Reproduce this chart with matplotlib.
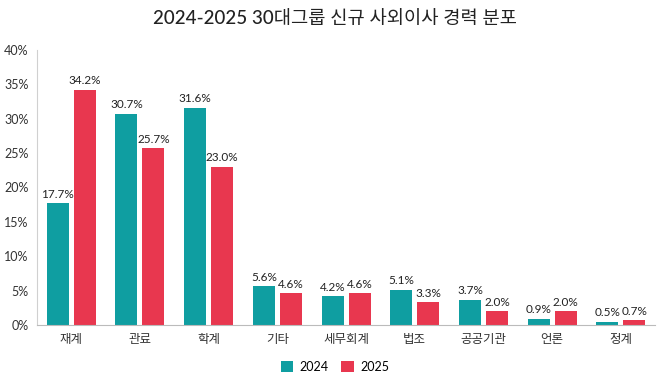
import matplotlib.pyplot as plt
import numpy as np

plt.rcParams['font.family'] = ['Lato', 'Noto Sans CJK KR', 'DejaVu Sans']

categories = ['재계', '관료', '학계', '기타', '세무회계', '법조', '공공기관', '언론', '정계']
vals_2024 = [17.7, 30.7, 31.6, 5.6, 4.2, 5.1, 3.7, 0.9, 0.5]
vals_2025 = [34.2, 25.7, 23.0, 4.6, 4.6, 3.3, 2.0, 2.0, 0.7]
yticks = [0, 5, 10, 15, 20, 25, 30, 35, 40]

c24 = '#0f9ea1'
c25 = '#e8374f'

fig = plt.figure(figsize=(6.7, 3.81), dpi=100)
ax = fig.add_axes([0.055, 0.147, 0.923, 0.722])

x = np.arange(len(categories))
w = 0.32
off = 0.197
b1 = ax.bar(x - off, vals_2024, w, color=c24, label='2024')
b2 = ax.bar(x + off, vals_2025, w, color=c25, label='2025')

for bars, vals in ((b1, vals_2024), (b2, vals_2025)):
    for b, v in zip(bars, vals):
        ax.text(b.get_x() + b.get_width() / 2, v + 0.5, f'{v:.1f}%',
                ha='center', va='bottom', fontsize=8.5, color='#222222')

ax.set_xlim(-0.5, len(categories) - 0.5)
ax.set_ylim(0, 40)
ax.set_yticks(yticks)
ax.set_yticklabels([f'{t}%' for t in yticks], fontsize=9, color='#333333')
ax.set_xticks(x)
ax.set_xticklabels(categories, fontsize=9, color='#333333')
ax.tick_params(axis='both', length=0, pad=6)

for s in ['top', 'right']:
    ax.spines[s].set_visible(False)
ax.spines['left'].set_color('#d0d0d0')
ax.spines['bottom'].set_color('#bbbbbb')

fig.text(0.5, 0.952, '2024-2025 30대그룹 신규 사외이사 경력 분포', ha='center', va='center',
         fontsize=13.5, fontweight='medium', color='#222222')

fig.legend(handles=[b1, b2], loc='center', bbox_to_anchor=(0.5, 0.037), ncol=2,
           frameon=False, fontsize=9, handlelength=1.0, handleheight=1.0,
           columnspacing=1.0, handletextpad=0.5)

fig.savefig('out.png', dpi=100)
